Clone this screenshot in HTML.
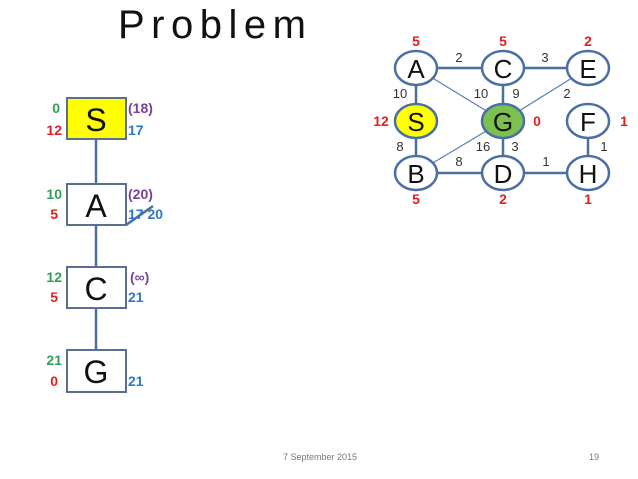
<!DOCTYPE html>
<html><head><style>body{margin:0;background:#fff}svg{display:block}</style></head><body>
<svg width="638" height="479" viewBox="0 0 638 479" xmlns="http://www.w3.org/2000/svg" font-family="Liberation Sans, sans-serif">
<text x="118" y="38" font-size="40" letter-spacing="6.5" fill="#111">Problem</text>
<!-- tree -->
<g stroke="#4a6fa5" stroke-width="2.5">
<line x1="96" y1="139" x2="96" y2="184"/>
<line x1="96" y1="225" x2="96" y2="267"/>
<line x1="96" y1="308" x2="96" y2="350"/>
<line x1="126" y1="225" x2="153" y2="206"/>
</g>
<g stroke="#5a6e8e" stroke-width="2">
<rect x="67" y="98" width="59" height="41" fill="#ffff00"/>
<rect x="67" y="184" width="59" height="41" fill="#fff"/>
<rect x="67" y="267" width="59" height="41" fill="#fff"/>
<rect x="67" y="350" width="59" height="42" fill="#fff"/>
</g>
<g font-size="32" text-anchor="middle" fill="#111">
<text x="96" y="131">S</text><text x="96" y="217">A</text><text x="96" y="300">C</text><text x="96" y="383">G</text>
</g>
<g font-size="14" font-weight="bold">
<g fill="#2ea05a" text-anchor="end"><text x="60" y="113">0</text><text x="62" y="199">10</text><text x="62" y="282">12</text><text x="62" y="365">21</text></g>
<g fill="#e02020" text-anchor="end"><text x="62" y="135">12</text><text x="58" y="219">5</text><text x="58" y="302">5</text><text x="58" y="386">0</text></g>
<g fill="#7b3fa0"><text x="128" y="113">(18)</text><text x="128" y="199">(20)</text><text x="130" y="282">(∞)</text></g>
<g fill="#2e78c0"><text x="128" y="135">17</text><text x="128" y="219">17 20</text><text x="128" y="302">21</text><text x="128" y="386">21</text></g>
</g>
<!-- graph -->
<g stroke="#4a6fa5" stroke-width="2.5">
<line x1="416" y1="68" x2="588" y2="68"/>
<line x1="416" y1="68" x2="416" y2="173"/>
<line x1="503" y1="68" x2="503" y2="173"/>
<line x1="416" y1="173" x2="588" y2="173"/>
<line x1="588" y1="121" x2="588" y2="173"/>
</g>
<g stroke="#5a7fb5" stroke-width="1.2">
<line x1="416" y1="68" x2="503" y2="121"/>
<line x1="588" y1="68" x2="503" y2="121"/>
<line x1="416" y1="173" x2="503" y2="121"/>
</g>
<g stroke="#4a6fa5" stroke-width="2.5" fill="#fff">
<ellipse cx="416" cy="68" rx="21" ry="17"/><ellipse cx="503" cy="68" rx="21" ry="17"/><ellipse cx="588" cy="68" rx="21" ry="17"/>
<ellipse cx="416" cy="121" rx="21" ry="17" fill="#ffff00"/><ellipse cx="503" cy="121" rx="21" ry="17" fill="#7cc050"/><ellipse cx="588" cy="121" rx="21" ry="17"/>
<ellipse cx="416" cy="173" rx="21" ry="17"/><ellipse cx="503" cy="173" rx="21" ry="17"/><ellipse cx="588" cy="173" rx="21" ry="17"/>
</g>
<g font-size="26" text-anchor="middle" fill="#111">
<text x="416" y="78">A</text><text x="503" y="78">C</text><text x="588" y="78">E</text>
<text x="416" y="131">S</text><text x="503" y="131">G</text><text x="588" y="131">F</text>
<text x="416" y="183">B</text><text x="503" y="183">D</text><text x="588" y="183">H</text>
</g>
<g font-size="13" fill="#333" text-anchor="middle">
<text x="459" y="62">2</text><text x="545" y="62">3</text>
<text x="400" y="98">10</text><text x="481" y="98">10</text><text x="516" y="98">9</text><text x="567" y="98">2</text>
<text x="400" y="151">8</text><text x="483" y="151">16</text><text x="515" y="151">3</text><text x="604" y="151">1</text>
<text x="459" y="166">8</text><text x="546" y="166">1</text>
</g>
<g font-size="14" font-weight="bold" fill="#e02020" text-anchor="middle">
<text x="416" y="46">5</text><text x="503" y="46">5</text><text x="588" y="46">2</text>
<text x="381" y="126">12</text><text x="537" y="126">0</text><text x="624" y="126">1</text>
<text x="416" y="204">5</text><text x="503" y="204">2</text><text x="588" y="204">1</text>
</g>
<text x="320" y="460" font-size="9" fill="#777" text-anchor="middle">7 September 2015</text>
<text x="594" y="460" font-size="9" fill="#777" text-anchor="middle">19</text>
</svg>
</body></html>
